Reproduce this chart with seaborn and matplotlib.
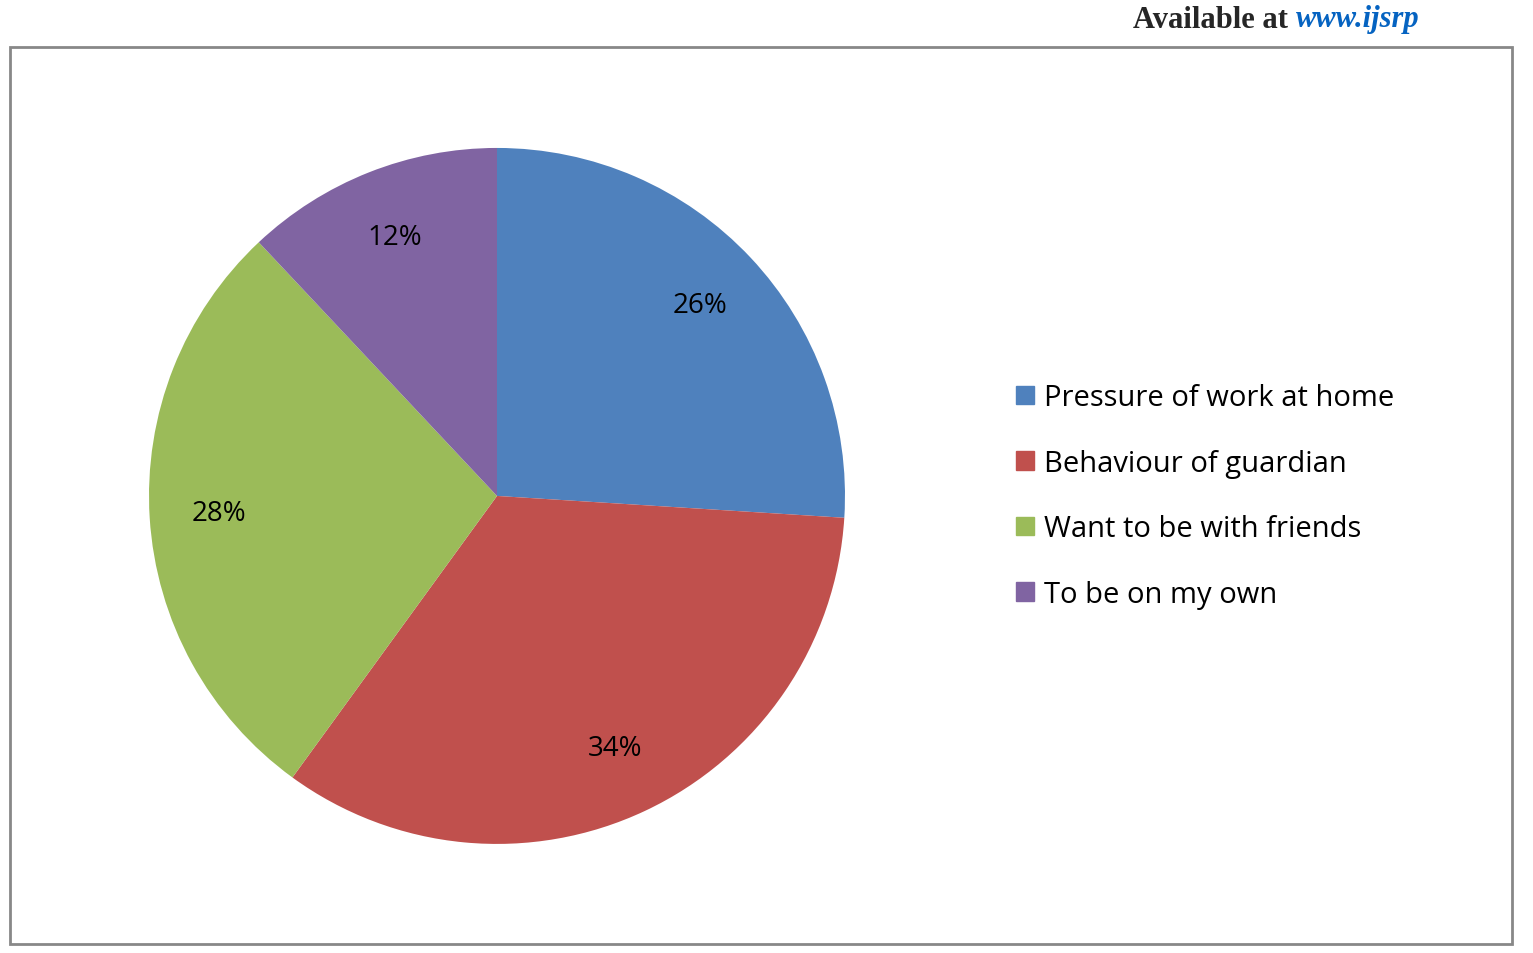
import numpy as np
import matplotlib.pyplot as plt
import matplotlib.patches as mpatches
import seaborn as sns

categories = ['Pressure of work at home', 'Behaviour of guardian',
              'Want to be with friends', 'To be on my own']
shares = [26, 34, 28, 12]
colors = ['#4F81BD', '#C0504D', '#9BBB59', '#8064A2']

sns.set_theme(style='white')
plt.rcParams['font.family'] = ['Open Sans', 'DejaVu Sans']

fig = plt.figure(figsize=(15.33, 9.54), dpi=100)

# outer chart border
fig.patches.append(mpatches.Rectangle((10 / 1533, 1 - 945 / 954), 1502 / 1533, 897 / 954,
                                      transform=fig.transFigure, fill=False,
                                      edgecolor='#888888', linewidth=2))

# page header
fig.text(1288 / 1533, 1 - 20 / 954, 'Available at', fontsize=22, fontweight='bold',
         family='Liberation Serif', va='center', ha='right')
fig.text(1296 / 1533, 1 - 20 / 954, 'www.ijsrp', fontsize=22, fontweight='bold',
         style='italic', family='Liberation Serif', color='#0563C1', va='center', ha='left')

ax = fig.add_axes([0.0972, 0.1143, 0.454, 0.7296])
wedges, texts = ax.pie(shares, colors=colors, startangle=90, counterclock=False,
                       wedgeprops=dict(edgecolor='none'))
for w, v in zip(wedges, shares):
    ang = np.deg2rad((w.theta1 + w.theta2) / 2)
    ax.text(0.8 * np.cos(ang), 0.8 * np.sin(ang), f'{v}%', ha='center', va='center',
            fontsize=20, color='black')
ax.set_xlim(-1, 1)
ax.set_ylim(-1, 1)
ax.set_aspect('equal')

handles = [mpatches.Patch(color=c, label=l) for c, l in zip(colors, categories)]
fig.legend(handles=handles, loc='upper left', bbox_to_anchor=(990 / 1533, 1 - 358 / 954),
           frameon=False, fontsize=21, labelspacing=1.25, handlelength=0.6,
           handleheight=0.6, handletextpad=0.35, labelcolor='black')

fig.savefig('out.png', dpi=100)
